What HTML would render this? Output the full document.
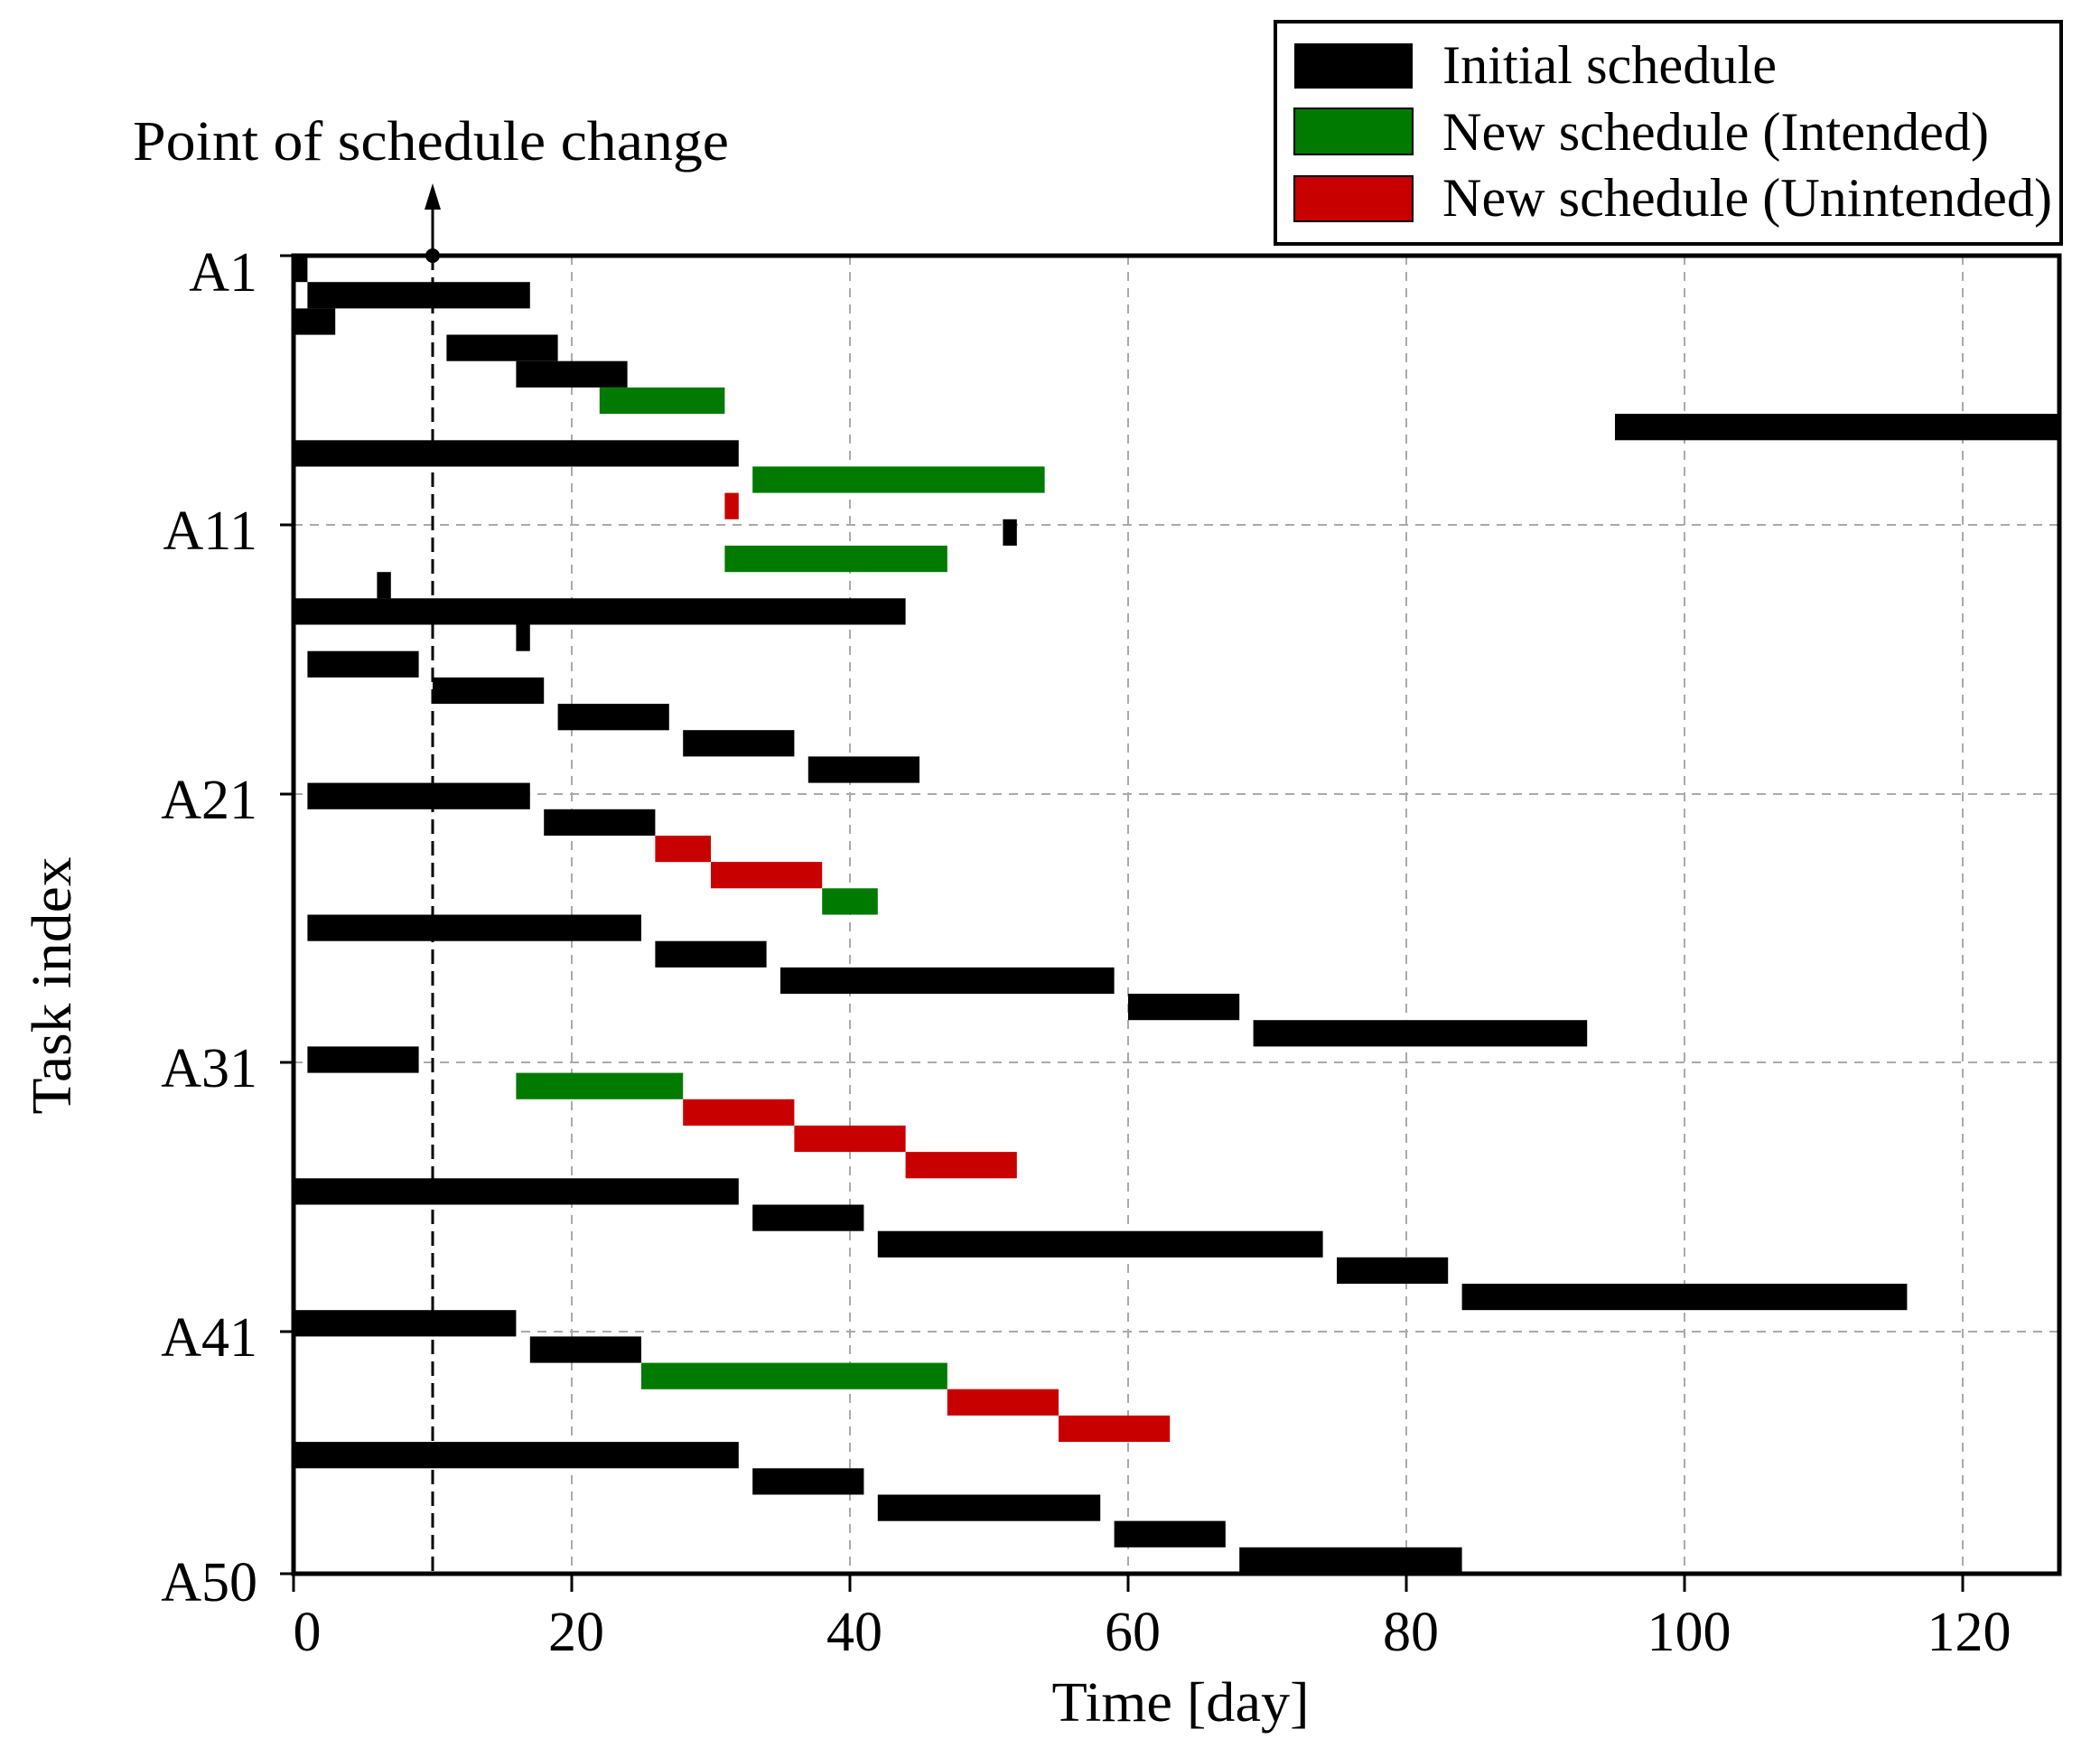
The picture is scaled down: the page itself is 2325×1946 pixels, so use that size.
<!DOCTYPE html>
<html><head><meta charset="utf-8"><style>
html,body{margin:0;padding:0;background:#fff;}
svg{display:block;font-family:"Liberation Serif",serif;}
</style></head><body>
<svg width="2325" height="1946" viewBox="0 0 2325 1946" xmlns="http://www.w3.org/2000/svg">
<rect width="2325" height="1946" fill="#fff"/>
<g stroke="#aaa" stroke-width="2" stroke-dasharray="10,8">
<line x1="633" y1="283" x2="633" y2="1742"/>
<line x1="941" y1="283" x2="941" y2="1742"/>
<line x1="1249" y1="283" x2="1249" y2="1742"/>
<line x1="1557" y1="283" x2="1557" y2="1742"/>
<line x1="1865" y1="283" x2="1865" y2="1742"/>
<line x1="2173" y1="283" x2="2173" y2="1742"/>
<line x1="325" y1="581" x2="2280" y2="581"/>
<line x1="325" y1="879" x2="2280" y2="879"/>
<line x1="325" y1="1176" x2="2280" y2="1176"/>
<line x1="325" y1="1474" x2="2280" y2="1474"/>
</g>
<g fill="#000">
<rect x="325" y="283.0" width="15.4" height="29.2"/>
<rect x="340.4" y="312.2" width="246.4" height="29.2"/>
<rect x="325" y="341.4" width="46.2" height="29.2"/>
<rect x="494.4" y="370.5" width="123.2" height="29.2"/>
<rect x="571.4" y="399.7" width="123.2" height="29.2"/>
<rect x="663.8" y="428.9" width="138.6" height="29.2" fill="#007a00"/>
<rect x="1788" y="458.1" width="492" height="29.2"/>
<rect x="325" y="487.3" width="492.8" height="29.2"/>
<rect x="833.2" y="516.4" width="323.4" height="29.2" fill="#007a00"/>
<rect x="802.4" y="545.6" width="15.4" height="29.2" fill="#c80000"/>
<rect x="1110.4" y="574.8" width="15.4" height="29.2"/>
<rect x="802.4" y="604.0" width="246.4" height="29.2" fill="#007a00"/>
<rect x="417.4" y="633.2" width="15.4" height="29.2"/>
<rect x="325" y="662.3" width="677.6" height="29.2"/>
<rect x="571.4" y="691.5" width="15.4" height="29.2"/>
<rect x="340.4" y="720.7" width="123.2" height="29.2"/>
<rect x="479" y="749.9" width="123.2" height="29.2"/>
<rect x="617.6" y="779.1" width="123.2" height="29.2"/>
<rect x="756.2" y="808.2" width="123.2" height="29.2"/>
<rect x="894.8" y="837.4" width="123.2" height="29.2"/>
<rect x="340.4" y="866.6" width="246.4" height="29.2"/>
<rect x="602.2" y="895.8" width="123.2" height="29.2"/>
<rect x="725.4" y="925.0" width="61.6" height="29.2" fill="#c80000"/>
<rect x="787" y="954.1" width="123.2" height="29.2" fill="#c80000"/>
<rect x="910.2" y="983.3" width="61.6" height="29.2" fill="#007a00"/>
<rect x="340.4" y="1012.5" width="369.6" height="29.2"/>
<rect x="725.4" y="1041.7" width="123.2" height="29.2"/>
<rect x="864" y="1070.9" width="369.6" height="29.2"/>
<rect x="1249" y="1100.0" width="123.2" height="29.2"/>
<rect x="1387.6" y="1129.2" width="369.6" height="29.2"/>
<rect x="340.4" y="1158.4" width="123.2" height="29.2"/>
<rect x="571.4" y="1187.6" width="184.8" height="29.2" fill="#007a00"/>
<rect x="756.2" y="1216.8" width="123.2" height="29.2" fill="#c80000"/>
<rect x="879.4" y="1245.9" width="123.2" height="29.2" fill="#c80000"/>
<rect x="1002.6" y="1275.1" width="123.2" height="29.2" fill="#c80000"/>
<rect x="325" y="1304.3" width="492.8" height="29.2"/>
<rect x="833.2" y="1333.5" width="123.2" height="29.2"/>
<rect x="971.8" y="1362.7" width="492.8" height="29.2"/>
<rect x="1480" y="1391.8" width="123.2" height="29.2"/>
<rect x="1618.6" y="1421.0" width="492.8" height="29.2"/>
<rect x="325" y="1450.2" width="246.4" height="29.2"/>
<rect x="586.8" y="1479.4" width="123.2" height="29.2"/>
<rect x="710" y="1508.6" width="338.8" height="29.2" fill="#007a00"/>
<rect x="1048.8" y="1537.7" width="123.2" height="29.2" fill="#c80000"/>
<rect x="1172" y="1566.9" width="123.2" height="29.2" fill="#c80000"/>
<rect x="325" y="1596.1" width="492.8" height="29.2"/>
<rect x="833.2" y="1625.3" width="123.2" height="29.2"/>
<rect x="971.8" y="1654.5" width="246.4" height="29.2"/>
<rect x="1233.6" y="1683.6" width="123.2" height="29.2"/>
<rect x="1372.2" y="1712.8" width="246.4" height="29.2"/>
</g>
<line x1="479" y1="283" x2="479" y2="1742" stroke="#000" stroke-width="3" stroke-dasharray="16,8"/>
<line x1="479" y1="283" x2="479" y2="230" stroke="#000" stroke-width="3"/>
<polygon points="479,203 470,232 488,232" fill="#000"/>
<circle cx="479" cy="283" r="8" fill="#000"/>
<rect x="325" y="283" width="1955" height="1459" fill="none" stroke="#000" stroke-width="5"/>
<g stroke="#000" stroke-width="3">
<line x1="310" y1="283" x2="325" y2="283"/><line x1="310" y1="581" x2="325" y2="581"/>
<line x1="310" y1="879" x2="325" y2="879"/><line x1="310" y1="1176" x2="325" y2="1176"/>
<line x1="310" y1="1474" x2="325" y2="1474"/><line x1="310" y1="1742" x2="325" y2="1742"/>
<line x1="325" y1="1742" x2="325" y2="1762"/><line x1="633" y1="1742" x2="633" y2="1762"/>
<line x1="941" y1="1742" x2="941" y2="1762"/><line x1="1249" y1="1742" x2="1249" y2="1762"/>
<line x1="1557" y1="1742" x2="1557" y2="1762"/><line x1="1865" y1="1742" x2="1865" y2="1762"/>
<line x1="2173" y1="1742" x2="2173" y2="1762"/>
</g>
<g font-size="62" text-anchor="end" fill="#000">
<text x="285" y="322">A1</text><text x="285" y="608">A11</text><text x="285" y="906">A21</text>
<text x="285" y="1203">A31</text><text x="285" y="1501">A41</text><text x="285" y="1772">A50</text>
</g>
<g font-size="62" text-anchor="middle" fill="#000">
<text x="340" y="1827">0</text><text x="638" y="1827">20</text><text x="946" y="1827">40</text>
<text x="1254" y="1827">60</text><text x="1562" y="1827">80</text><text x="1870" y="1827">100</text>
<text x="2180" y="1827">120</text>
<text x="1307" y="1905" textLength="285" lengthAdjust="spacingAndGlyphs">Time [day]</text>
<text transform="translate(78,1091) rotate(-90)" textLength="285" lengthAdjust="spacingAndGlyphs">Task index</text>
</g>
<text x="147" y="177" font-size="62" fill="#000" textLength="660" lengthAdjust="spacingAndGlyphs">Point of schedule change</text>
<rect x="1412" y="24" width="870" height="246" fill="#fff" stroke="#000" stroke-width="4"/>
<rect x="1433" y="48" width="131" height="50" fill="#000"/>
<rect x="1433" y="120" width="131" height="51" fill="#007a00" stroke="#000" stroke-width="2"/>
<rect x="1433" y="195" width="131" height="50" fill="#c80000" stroke="#000" stroke-width="2"/>
<g font-size="60" fill="#000">
<text x="1597" y="92" textLength="370" lengthAdjust="spacingAndGlyphs">Initial schedule</text>
<text x="1597" y="166" textLength="605" lengthAdjust="spacingAndGlyphs">New schedule (Intended)</text>
<text x="1597" y="239" textLength="675" lengthAdjust="spacingAndGlyphs">New schedule (Unintended)</text>
</g>
</svg>
</body></html>
